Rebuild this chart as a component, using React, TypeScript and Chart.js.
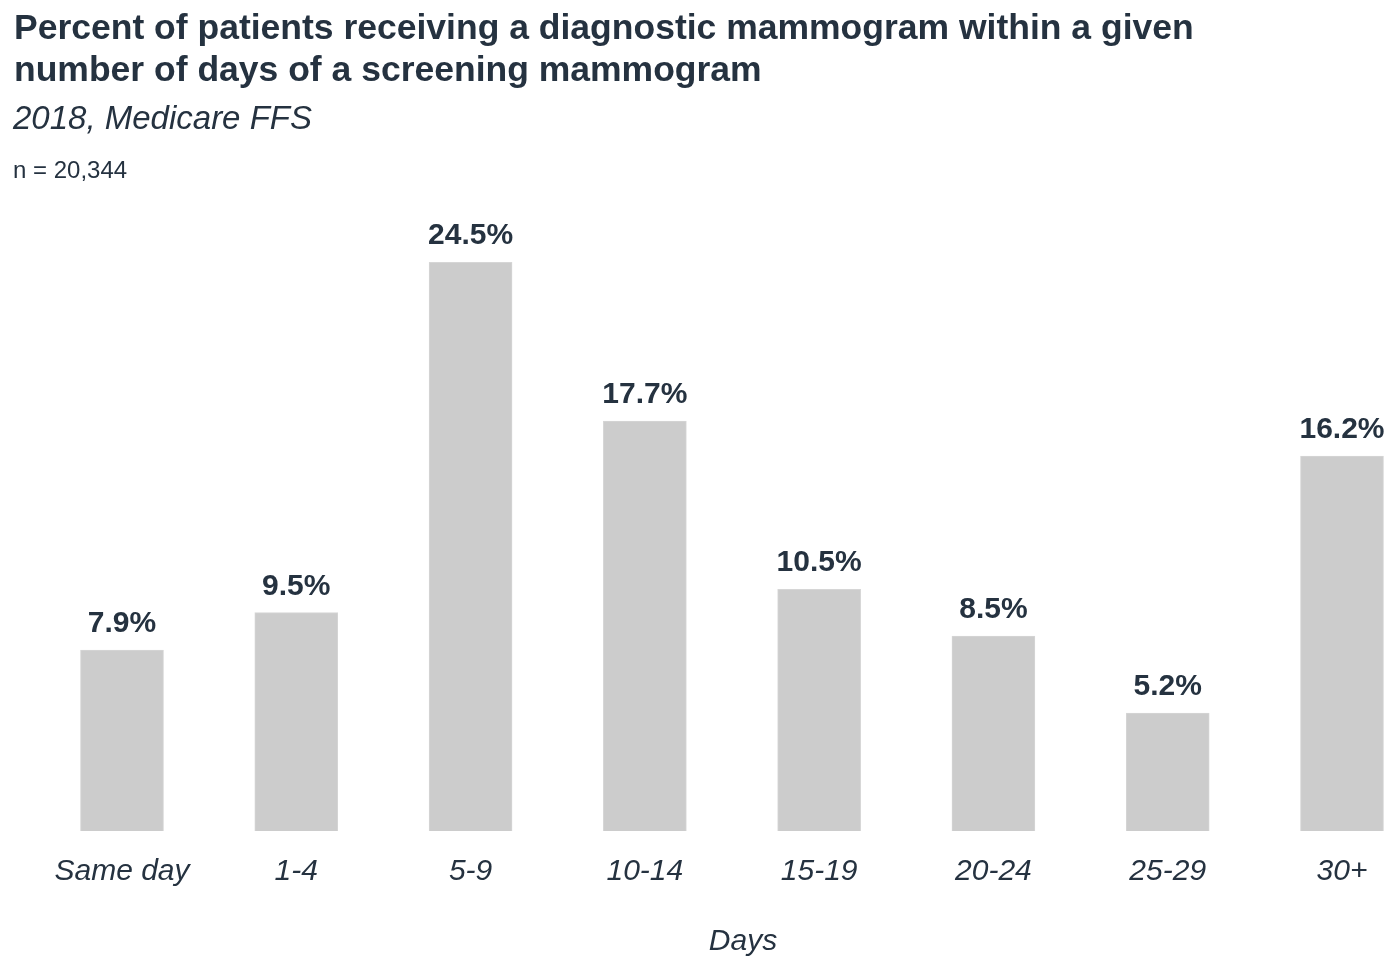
import React, { useEffect, useRef } from "react";
import { Chart, registerables } from "chart.js";

Chart.register(...registerables);

const categories = ["Same day", "1-4", "5-9", "10-14", "15-19", "20-24", "25-29", "30+"];
const percentValues = [7.9, 9.5, 24.5, 17.7, 10.5, 8.5, 5.2, 16.2];
const titleLines = [
  "Percent of patients receiving a diagnostic mammogram within a given",
  "number of days of a screening mammogram",
];
const subtitleText = "2018, Medicare FFS";
const noteText = "n = 20,344";
const xAxisTitle = "Days";

const TEXT = "#253240";
const FONT = "'Liberation Sans', Arial, Helvetica, sans-serif";

const headerPlugin = {
  id: "header",
  afterDraw(chart: any) {
    const ctx = chart.ctx;
    ctx.save();
    ctx.fillStyle = TEXT;
    ctx.textAlign = "left";
    ctx.textBaseline = "alphabetic";
    ctx.font = `bold 35.5px ${FONT}`;
    ctx.fillText(titleLines[0], 14, 39);
    ctx.fillText(titleLines[1], 14, 81);
    ctx.font = `italic 33px ${FONT}`;
    ctx.fillText(subtitleText, 13, 129);
    ctx.font = `24px ${FONT}`;
    ctx.fillText(noteText, 13, 178);
    ctx.font = `italic 30px ${FONT}`;
    ctx.textAlign = "center";
    ctx.fillText(xAxisTitle, 743, 950);
    ctx.restore();
  },
};

const valueLabelPlugin = {
  id: "valueLabels",
  afterDatasetsDraw(chart: any) {
    const ctx = chart.ctx;
    const meta = chart.getDatasetMeta(0);
    const data = chart.data.datasets[0].data as number[];
    ctx.save();
    ctx.fillStyle = TEXT;
    ctx.font = `bold 30px ${FONT}`;
    ctx.textAlign = "center";
    ctx.textBaseline = "alphabetic";
    meta.data.forEach((bar: any, i: number) => {
      ctx.fillText(`${data[i].toFixed(1)}%`, bar.x, bar.y - 18);
    });
    ctx.restore();
  },
};

export default function App() {
  const ref = useRef<HTMLCanvasElement | null>(null);
  useEffect(() => {
    if (!ref.current) return;
    const chart = new Chart(ref.current, {
      type: "bar",
      data: {
        labels: categories,
        datasets: [
          {
            data: percentValues,
            backgroundColor: "#cccccc",
            borderColor: "#d6d6d6",
            borderWidth: 1,
            barThickness: 83,
            clip: { left: false, right: false, top: false, bottom: 0 } as any,
          },
        ],
      },
      options: {
        animation: false,
        responsive: false,
        devicePixelRatio: 1,
        layout: { padding: { top: 200, left: 122, right: 58, bottom: 0 } },
        plugins: { legend: { display: false }, tooltip: { enabled: false }, title: { display: false } },
        scales: {
          x: {
            type: "category",
            offset: false,
            grid: { display: false, drawTicks: false },
            border: { display: false },
            ticks: {
              color: TEXT,
              font: { family: FONT, size: 30, style: "italic" },
              padding: 23,
              maxRotation: 0,
              autoSkip: false,
            },
            afterFit(scale: any) {
              scale.height = 135;
            },
          },
          y: {
            display: false,
            min: 0.15,
            max: 27.17,
          },
        },
      },
      plugins: [headerPlugin, valueLabelPlugin],
    });
    return () => chart.destroy();
  }, []);
  return (
    <div style={{ position: "fixed", left: 0, top: 0, width: 1400, height: 966, background: "#ffffff" }}>
      <canvas ref={ref} width={1400} height={966} style={{ display: "block" }} />
    </div>
  );
}
